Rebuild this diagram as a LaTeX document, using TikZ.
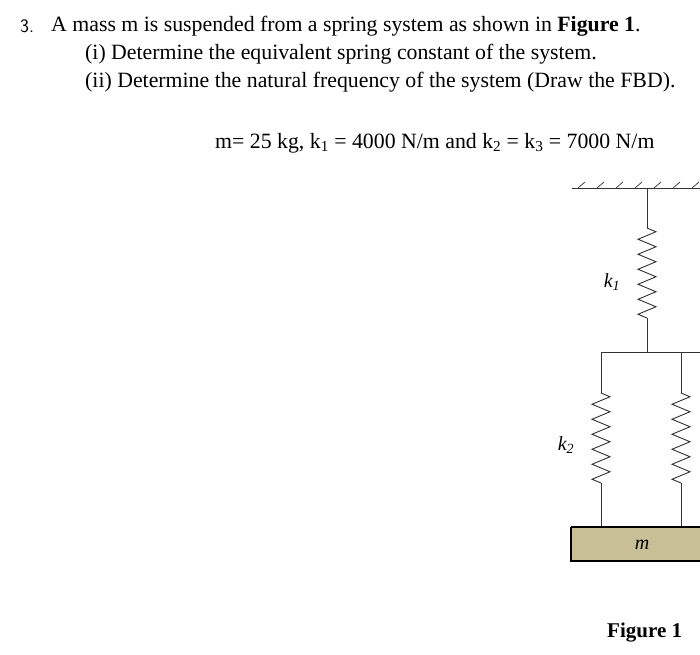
\documentclass[tikz,border=0pt]{standalone}
\usepackage{fontspec}
\setmainfont{Liberation Serif}
\begin{document}
\begin{tikzpicture}[x=1pt,y=-1pt,
  txt/.style={anchor=west,inner sep=0,font=\fontsize{21.8}{24}\selectfont},
  wire/.style={line width=0.9pt,black!80},
  spr/.style={line width=0.9pt,black!80,decorate,decoration={zigzag,segment length=15pt,amplitude=9pt,pre length=0pt,post length=0pt}},
  lab/.style={font=\fontsize{20}{20}\selectfont\itshape,inner sep=0}]
\usetikzlibrary{decorations.pathmorphing}
\useasboundingbox (0,0) rectangle (700,654);
\node[txt,font=\fontsize{19}{22}\sffamily] (n3) at (20,26) {3.};
\node[txt] (l1) at (51,26) {A mass m is suspended from a spring system as shown in \textbf{Figure 1}.};
\node[txt] (l2) at (85,54) {(i) Determine the equivalent spring constant of the system.};
\node[txt] (l3) at (85,82) {(ii) Determine the natural frequency of the system (Draw the FBD).};
\node[txt] (eq) at (215,143) {m= 25 kg, k\textsubscript{1} = 4000 N/m and k\textsubscript{2} = k\textsubscript{3} = 7000 N/m};
\node[txt,font=\fontsize{21}{22}\selectfont\bfseries] (fig) at (607,633) {Figure 1};
% ceiling
\coordinate (c0) at (572,188); \coordinate (c1) at (700,188);
\draw[wire] (c0) -- (c1);
\foreach \x in {578,597,...,700} \draw[line width=0.7pt,black!80] (\x,188) -- (\x+7,182);
% k1
\coordinate (a0) at (647,188); \coordinate (a1) at (647,228); \coordinate (a2) at (647,318); \coordinate (a3) at (647,352);
\draw[wire] (a0) -- (a1); \draw[spr] (a1) -- (a2); \draw[wire] (a2) -- (a3);
% bar
\coordinate (b0) at (601,352); \coordinate (b1) at (700,352);
\draw[wire] (b0) -- (b1);
% k2
\coordinate (l0) at (601,393); \coordinate (lb) at (601,483); \coordinate (le) at (601,527);
\draw[wire] (b0) -- (l0); \draw[spr] (l0) -- (lb); \draw[wire] (lb) -- (le);
% k3
\coordinate (r0) at (681,352); \coordinate (ra) at (681,393); \coordinate (rb) at (681,483); \coordinate (re) at (681,527);
\draw[wire] (r0) -- (ra); \draw[spr] (ra) -- (rb); \draw[wire] (rb) -- (re);
% mass
\fill[fill={rgb,255:red,200;green,191;blue,150}] (571,527) rectangle (702,561);
\draw[line width=2.5pt] (571,527) -- (571,561) -- (702,561) (571,527) -- (702,527);
\node[lab] (m) at (642,545) {m};
\node[lab] (k1) at (612,282) {k\textsubscript{\itshape 1}};
\node[lab] (k2) at (566,445) {k\textsubscript{\itshape 2}};
\end{tikzpicture}
\end{document}
